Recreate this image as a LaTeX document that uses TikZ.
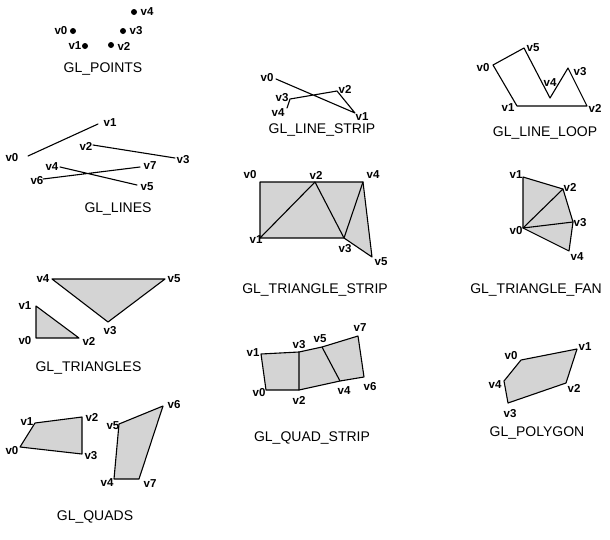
\documentclass[tikz,border=0pt]{standalone}
\usepackage{fontspec}
\setmainfont{Liberation Sans}
\begin{document}
\begin{tikzpicture}[x=1pt,y=-1pt,
  lab/.style={font=\fontsize{11.5}{12}\selectfont\bfseries, inner sep=0pt},
  ttl/.style={font=\fontsize{14}{15}\selectfont, inner sep=0pt},
  edge/.style={draw=black, line width=1.1pt, line join=round, line cap=round},
  face/.style={fill=black!17},
  dot/.style={circle, fill=black, inner sep=0pt, minimum size=6pt}]
\useasboundingbox (0,0) rectangle (610,539);
% ---------- GL_POINTS
\node[dot] (a0) at (73,31) {};
\node[dot] (a1) at (85,46) {};
\node[dot] (a2) at (111,45) {};
\node[dot] (a3) at (123,31) {};
\node[dot] (a4) at (134,12) {};
\node[lab] (la0) at (61,31) {v0};
\node[lab] (la1) at (75,46) {v1};
\node[lab] (la2) at (124,46) {v2};
\node[lab] (la3) at (136,31) {v3};
\node[lab] (la4) at (147,12) {v4};
\node[ttl] (ta) at (103,68.5) {GL\_POINTS};
% ---------- GL_LINES
\coordinate (b0) at (28,156);
\coordinate (b1) at (98,124);
\coordinate (b2) at (93,145);
\coordinate (b3) at (175,158);
\coordinate (b4) at (60,167);
\coordinate (b5) at (137,185);
\coordinate (b6) at (43,179);
\coordinate (b7) at (140,167);
\draw[edge] (b0) -- (b1) (b2) -- (b3) (b4) -- (b5) (b6) -- (b7);
\node[lab] (lb0) at (12,158) {v0};
\node[lab] (lb1) at (110,123) {v1};
\node[lab] (lb2) at (86,146) {v2};
\node[lab] (lb3) at (183,160) {v3};
\node[lab] (lb4) at (52,167) {v4};
\node[lab] (lb5) at (147,187) {v5};
\node[lab] (lb6) at (37,181) {v6};
\node[lab] (lb7) at (150,166) {v7};
\node[ttl] (tb) at (118,209) {GL\_LINES};
% ---------- GL_TRIANGLES
\coordinate (c0) at (36,338);
\coordinate (c1) at (36,306);
\coordinate (c2) at (79,338);
\coordinate (c3) at (108,322);
\coordinate (c4) at (52,279);
\coordinate (c5) at (165,279);
\draw[edge,face] (c0) -- (c1) -- (c2) -- cycle;
\draw[edge,face] (c3) -- (c4) -- (c5) -- cycle;
\node[lab] (lc0) at (25,341) {v0};
\node[lab] (lc1) at (25,306) {v1};
\node[lab] (lc2) at (89,341) {v2};
\node[lab] (lc3) at (110,331) {v3};
\node[lab] (lc4) at (43,279) {v4};
\node[lab] (lc5) at (174,279) {v5};
\node[ttl] (tc) at (88.5,368) {GL\_TRIANGLES};
% ---------- GL_QUADS
\coordinate (d0) at (20,447);
\coordinate (d1) at (35,423);
\coordinate (d2) at (82,417);
\coordinate (d3) at (82,454);
\coordinate (d4) at (114,479);
\coordinate (d5) at (119,424);
\coordinate (d6) at (163,406);
\coordinate (d7) at (139,479);
\draw[edge,face] (d0) -- (d1) -- (d2) -- (d3) -- cycle;
\draw[edge,face] (d4) -- (d5) -- (d6) -- (d7) -- cycle;
\node[lab] (ld0) at (12,451) {v0};
\node[lab] (ld1) at (27,422) {v1};
\node[lab] (ld2) at (92,417) {v2};
\node[lab] (ld3) at (91,456) {v3};
\node[lab] (ld4) at (107,483) {v4};
\node[lab] (ld5) at (113,426) {v5};
\node[lab] (ld6) at (174,405) {v6};
\node[lab] (ld7) at (150,484) {v7};
\node[ttl] (td) at (95,517) {GL\_QUADS};
% ---------- GL_LINE_STRIP
\coordinate (e0) at (276,79);
\coordinate (e1) at (355,113);
\coordinate (e2) at (337,91);
\coordinate (e3) at (290,99);
\coordinate (e4) at (287,108);
\draw[edge] (e0) -- (e1) -- (e2) -- (e3) -- (e4);
\node[lab] (le0) at (267,78) {v0};
\node[lab] (le1) at (362,117) {v1};
\node[lab] (le2) at (345,89) {v2};
\node[lab] (le3) at (282,98) {v3};
\node[lab] (le4) at (278,113) {v4};
\node[ttl] (te) at (322,130) {GL\_LINE\_STRIP};
% ---------- GL_TRIANGLE_STRIP
\coordinate (f0) at (260,182);
\coordinate (f1) at (260,238);
\coordinate (f2) at (315,182);
\coordinate (f3) at (344,238);
\coordinate (f4) at (363,182);
\coordinate (f5) at (372,257);
\fill[face] (f0) -- (f2) -- (f4) -- (f5) -- (f3) -- (f1) -- cycle;
\draw[edge] (f0) -- (f2) -- (f4) -- (f5) -- (f3) -- (f1) -- cycle;
\draw[edge] (f1) -- (f2) -- (f3) -- (f4);
\node[lab] (lf0) at (250,175) {v0};
\node[lab] (lf1) at (256,240) {v1};
\node[lab] (lf2) at (316,175) {v2};
\node[lab] (lf3) at (345,249) {v3};
\node[lab] (lf4) at (373,175) {v4};
\node[lab] (lf5) at (381,262) {v5};
\node[ttl] (tf) at (315,290) {GL\_TRIANGLE\_STRIP};
% ---------- GL_QUAD_STRIP
\coordinate (g0) at (266,390);
\coordinate (g1) at (261,354);
\coordinate (g2) at (299,390);
\coordinate (g3) at (299,352);
\coordinate (g4) at (340,381);
\coordinate (g5) at (322,347);
\coordinate (g6) at (364,377);
\coordinate (g7) at (358,336);
\fill[face] (g1) -- (g3) -- (g5) -- (g7) -- (g6) -- (g4) -- (g2) -- (g0) -- cycle;
\draw[edge] (g1) -- (g3) -- (g5) -- (g7) -- (g6) -- (g4) -- (g2) -- (g0) -- cycle;
\draw[edge] (g3) -- (g2) (g5) -- (g4);
\node[lab] (lg0) at (259,393) {v0};
\node[lab] (lg1) at (253,353) {v1};
\node[lab] (lg2) at (299,400) {v2};
\node[lab] (lg3) at (299,345) {v3};
\node[lab] (lg4) at (344,391) {v4};
\node[lab] (lg5) at (320,339) {v5};
\node[lab] (lg6) at (370,387) {v6};
\node[lab] (lg7) at (360,328) {v7};
\node[ttl] (tg) at (312,438) {GL\_QUAD\_STRIP};
% ---------- GL_LINE_LOOP
\coordinate (h0) at (493,65);
\coordinate (h1) at (517,106);
\coordinate (h2) at (587,106);
\coordinate (h3) at (568,68);
\coordinate (h4) at (550,98);
\coordinate (h5) at (524,48);
\draw[edge] (h0) -- (h1) -- (h2) -- (h3) -- (h4) -- (h5) -- cycle;
\node[lab] (lh0) at (483,68) {v0};
\node[lab] (lh1) at (508,108) {v1};
\node[lab] (lh2) at (595,108) {v2};
\node[lab] (lh3) at (580,72) {v3};
\node[lab] (lh4) at (550,83) {v4};
\node[lab] (lh5) at (533,48) {v5};
\node[ttl] (th) at (545,133) {GL\_LINE\_LOOP};
% ---------- GL_TRIANGLE_FAN
\coordinate (i0) at (523,228);
\coordinate (i1) at (523,177);
\coordinate (i2) at (563,189);
\coordinate (i3) at (573,222);
\coordinate (i4) at (569,251);
\fill[face] (i0) -- (i1) -- (i2) -- (i3) -- (i4) -- cycle;
\draw[edge] (i0) -- (i1) -- (i2) -- (i3) -- (i4) -- cycle;
\draw[edge] (i0) -- (i2) (i0) -- (i3);
\node[lab] (li0) at (516,231) {v0};
\node[lab] (li1) at (516,175) {v1};
\node[lab] (li2) at (570,187) {v2};
\node[lab] (li3) at (580,223) {v3};
\node[lab] (li4) at (577,257) {v4};
\node[ttl] (ti) at (536,290) {GL\_TRIANGLE\_FAN};
% ---------- GL_POLYGON
\coordinate (j0) at (521,360);
\coordinate (j1) at (577,349);
\coordinate (j2) at (566,383);
\coordinate (j3) at (508,403);
\coordinate (j4) at (504,381);
\draw[edge,face] (j0) -- (j1) -- (j2) -- (j3) -- (j4) -- cycle;
\node[lab] (lj0) at (511,356) {v0};
\node[lab] (lj1) at (585,347) {v1};
\node[lab] (lj2) at (574,388) {v2};
\node[lab] (lj3) at (510,414) {v3};
\node[lab] (lj4) at (495,385) {v4};
\node[ttl] (tj) at (537,433) {GL\_POLYGON};
\end{tikzpicture}
\end{document}
